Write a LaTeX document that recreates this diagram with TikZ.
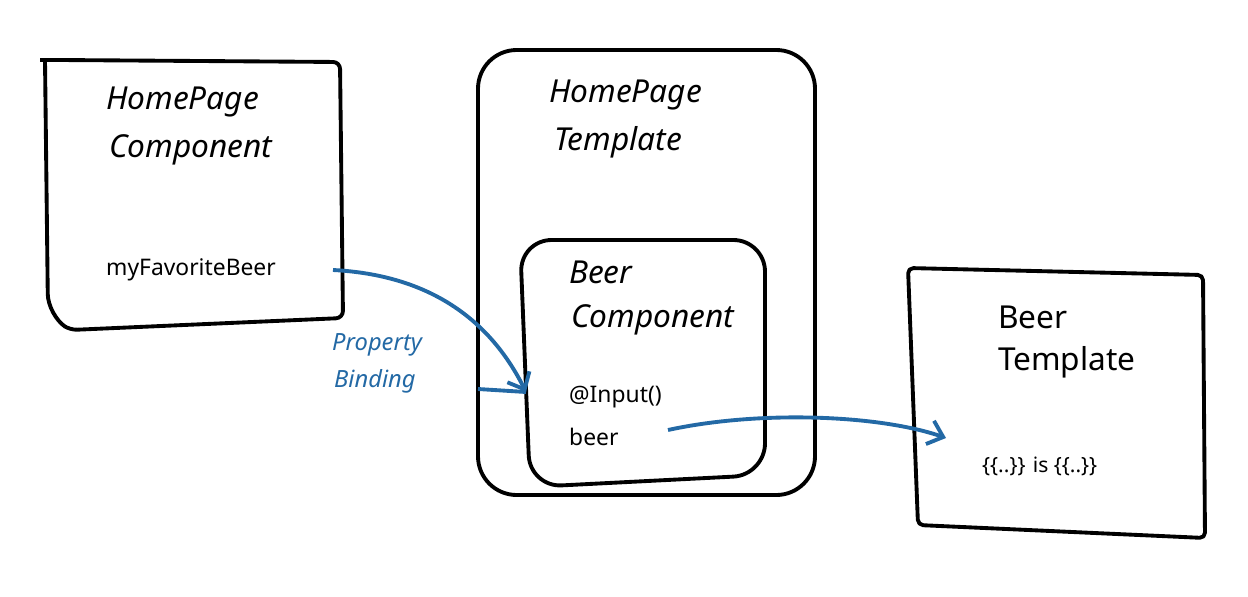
\documentclass[tikz,border=0pt]{standalone}
\usepackage{fontspec}
\setmainfont{Noto Sans}
\usetikzlibrary{arrows.meta}
\definecolor{bl}{RGB}{35,105,165}
\begin{document}
\begin{tikzpicture}[x=0.02cm,y=-0.02cm,
 box/.style={line width=2.2pt,line join=round,rounded corners=12pt},
 ti/.style={font=\itshape\fontsize{18}{21}\selectfont,anchor=west},
 tx/.style={font=\fontsize{13}{15}\selectfont,anchor=west},
 arr/.style={bl,line width=2.2pt,-{Straight Barb[length=8pt,width=14pt]}}]
\useasboundingbox (0,0) rectangle (1248,596);
% boxes
\draw[box,rounded corners=4pt] (40,60) -- (60,60) -- (340,62) -- (343,318) -- (70,330) [rounded corners=12pt]-- (48,315) -- (45,60);
\draw[box,rounded corners=22pt] (478,50) rectangle (815,495);
\draw[box,rounded corners=18pt] (520,240) -- (765,240) -- (765,475) -- (530,487) -- cycle;
\draw[box,rounded corners=3pt] (908,268) -- (1203,275) -- (1205,538) -- (918,525) -- cycle;
% texts
\node[ti] (t1) at (100,102) {HomePage};
\node[ti] (t2) at (103,150) {Component};
\node[tx] (f) at (100,270) {myFavoriteBeer};
\node[ti] (t3) at (543,95) {HomePage};
\node[ti] (t4) at (548,142) {Template};
\node[ti] (t5) at (563,272) {Beer};
\node[ti] (t6) at (565,320) {Component};
\node[tx] (in) at (563,397) {@Input()};
\node[tx] (be) at (563,437) {beer};
\node[ti,font=\fontsize{18}{21}\selectfont] (t7) at (992,317) {Beer};
\node[ti,font=\fontsize{18}{21}\selectfont] (t8) at (992,362) {Template};
\node[tx,font=\fontsize{12}{14}\selectfont] (cc) at (976,466) {\{\{..\}\} is \{\{..\}\}};
\node[ti,bl,font=\itshape\fontsize{13.5}{15}\selectfont] (p1) at (326,345) {Property};
\node[ti,bl,font=\itshape\fontsize{13.5}{15}\selectfont] (p2) at (328,381) {Binding};
% connectors
\coordinate (a0) at (333,270);
\coordinate (a1) at (526,392);
\coordinate (b0) at (478,389);
\coordinate (c0) at (668,430);
\coordinate (c1) at (946,438);
\draw[arr] (a0) .. controls (430,275) and (490,320) .. (a1);
\draw[bl,line width=2.2pt] (b0) -- (a1);
\draw[arr] (c0) .. controls (760,410) and (880,415) .. (c1);
\end{tikzpicture}
\end{document}
